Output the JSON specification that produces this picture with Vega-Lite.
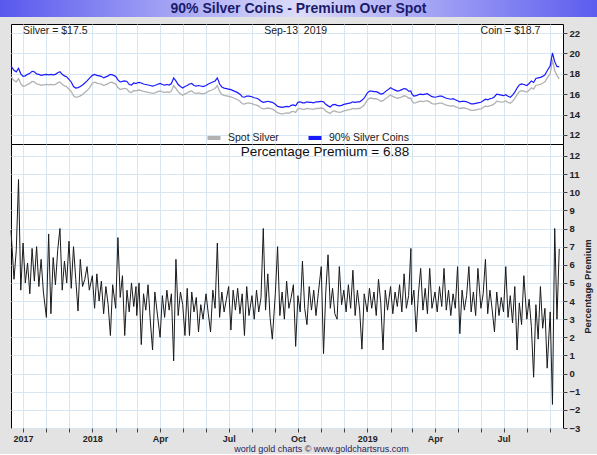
{
"$schema": "https://vega.github.io/schema/vega-lite/v6.json",
"background": "#e3e3e3",
"padding": 0,
"config": {"font": "Liberation Sans", "view": {"stroke": "#000000", "strokeWidth": 1, "fill": "#ffffff"}, "axis": {"gridColor": "#d6e6f3", "gridWidth": 1, "tickColor": "#444444", "labelColor": "#222222", "labelFont": "Liberation Sans", "titleFont": "Liberation Sans", "labelOverlap": false, "labelBound": false, "tickCount": 100}},
"datasets": {"px": [
{"d":"2017-09-15","s":17.72,"c":18.75,"p":7.9},
{"d":"2017-09-19","s":17.34,"c":18.35,"p":5.2},
{"d":"2017-09-22","s":17.20,"c":18.2,"p":6.8},
{"d":"2017-09-25","s":17.53,"c":18.55,"p":10.7},
{"d":"2017-09-28","s":17.01,"c":18.0,"p":4.6},
{"d":"2017-10-01","s":16.78,"c":17.75,"p":7.2},
{"d":"2017-10-04","s":16.82,"c":17.8,"p":5.0},
{"d":"2017-10-07","s":16.97,"c":17.95,"p":6.1},
{"d":"2017-10-10","s":17.06,"c":18.05,"p":4.4},
{"d":"2017-10-13","s":17.25,"c":18.25,"p":6.9},
{"d":"2017-10-16","s":17.20,"c":18.2,"p":5.1},
{"d":"2017-10-19","s":17.01,"c":18.0,"p":7.0},
{"d":"2017-10-22","s":16.97,"c":17.95,"p":4.8},
{"d":"2017-10-25","s":16.87,"c":17.85,"p":6.3},
{"d":"2017-10-28","s":16.92,"c":17.9,"p":4.5},
{"d":"2017-11-01","s":16.97,"c":17.95,"p":3.1},
{"d":"2017-11-04","s":16.92,"c":17.9,"p":7.7},
{"d":"2017-11-07","s":16.97,"c":17.95,"p":3.3},
{"d":"2017-11-10","s":16.92,"c":17.9,"p":6.4},
{"d":"2017-11-13","s":16.97,"c":17.95,"p":4.9},
{"d":"2017-11-16","s":17.11,"c":18.1,"p":6.8},
{"d":"2017-11-19","s":17.20,"c":18.2,"p":8.0},
{"d":"2017-11-22","s":16.97,"c":17.95,"p":4.6},
{"d":"2017-11-25","s":16.82,"c":17.8,"p":6.2},
{"d":"2017-11-28","s":16.73,"c":17.7,"p":5.0},
{"d":"2017-12-01","s":16.49,"c":17.45,"p":7.3},
{"d":"2017-12-04","s":16.26,"c":17.2,"p":4.7},
{"d":"2017-12-07","s":15.83,"c":16.75,"p":7.0},
{"d":"2017-12-10","s":15.69,"c":16.6,"p":5.2},
{"d":"2017-12-13","s":15.74,"c":16.65,"p":3.45},
{"d":"2017-12-16","s":15.83,"c":16.75,"p":6.3},
{"d":"2017-12-19","s":15.97,"c":16.9,"p":4.8},
{"d":"2017-12-22","s":16.16,"c":17.1,"p":5.2},
{"d":"2017-12-25","s":16.35,"c":17.3,"p":5.9},
{"d":"2017-12-28","s":16.59,"c":17.55,"p":4.6},
{"d":"2018-01-01","s":17.08,"c":17.85,"p":5.4},
{"d":"2018-01-04","s":17.18,"c":17.95,"p":3.6},
{"d":"2018-01-07","s":17.08,"c":17.85,"p":5.5},
{"d":"2018-01-10","s":17.03,"c":17.8,"p":4.0},
{"d":"2018-01-13","s":16.99,"c":17.75,"p":5.1},
{"d":"2018-01-16","s":16.84,"c":17.6,"p":3.3},
{"d":"2018-01-19","s":16.94,"c":17.7,"p":4.8},
{"d":"2018-01-22","s":17.03,"c":17.8,"p":3.8},
{"d":"2018-01-25","s":17.18,"c":17.95,"p":2.1},
{"d":"2018-01-28","s":17.13,"c":17.9,"p":4.9},
{"d":"2018-02-01","s":16.99,"c":17.75,"p":3.6},
{"d":"2018-02-04","s":16.65,"c":17.4,"p":7.5},
{"d":"2018-02-07","s":16.46,"c":17.2,"p":4.2},
{"d":"2018-02-10","s":16.51,"c":17.25,"p":5.4},
{"d":"2018-02-13","s":16.56,"c":17.3,"p":2.1},
{"d":"2018-02-16","s":16.51,"c":17.25,"p":4.6},
{"d":"2018-02-19","s":16.22,"c":16.95,"p":3.4},
{"d":"2018-02-22","s":16.17,"c":16.9,"p":5.0},
{"d":"2018-02-25","s":16.36,"c":17.1,"p":3.7},
{"d":"2018-02-28","s":16.32,"c":17.05,"p":4.8},
{"d":"2018-03-01","s":16.36,"c":17.1,"p":3.2},
{"d":"2018-03-04","s":16.41,"c":17.15,"p":5.0},
{"d":"2018-03-07","s":16.36,"c":17.1,"p":1.6},
{"d":"2018-03-10","s":16.27,"c":17.0,"p":4.4},
{"d":"2018-03-13","s":16.22,"c":16.95,"p":3.5},
{"d":"2018-03-16","s":16.17,"c":16.9,"p":4.9},
{"d":"2018-03-19","s":16.12,"c":16.85,"p":2.9},
{"d":"2018-03-22","s":16.08,"c":16.8,"p":1.3},
{"d":"2018-03-25","s":16.12,"c":16.85,"p":4.5},
{"d":"2018-03-28","s":16.22,"c":16.95,"p":3.4},
{"d":"2018-04-01","s":16.32,"c":17.05,"p":2.0},
{"d":"2018-04-04","s":16.22,"c":16.95,"p":4.3},
{"d":"2018-04-07","s":16.17,"c":16.9,"p":3.1},
{"d":"2018-04-10","s":16.22,"c":16.95,"p":4.6},
{"d":"2018-04-13","s":16.17,"c":16.9,"p":3.5},
{"d":"2018-04-16","s":16.32,"c":17.05,"p":4.4},
{"d":"2018-04-19","s":16.84,"c":17.6,"p":0.7},
{"d":"2018-04-22","s":16.56,"c":17.3,"p":6.3},
{"d":"2018-04-25","s":16.22,"c":16.95,"p":3.2},
{"d":"2018-04-28","s":16.03,"c":16.75,"p":4.5},
{"d":"2018-05-01","s":15.89,"c":16.6,"p":3.8},
{"d":"2018-05-04","s":16.03,"c":16.75,"p":2.1},
{"d":"2018-05-07","s":16.12,"c":16.85,"p":4.7},
{"d":"2018-05-10","s":16.27,"c":17.0,"p":2.1},
{"d":"2018-05-13","s":16.32,"c":17.05,"p":4.5},
{"d":"2018-05-16","s":16.12,"c":16.85,"p":3.4},
{"d":"2018-05-19","s":16.08,"c":16.8,"p":4.2},
{"d":"2018-05-22","s":16.12,"c":16.85,"p":2.3},
{"d":"2018-05-25","s":16.08,"c":16.8,"p":3.8},
{"d":"2018-05-28","s":16.03,"c":16.75,"p":3.0},
{"d":"2018-06-01","s":16.12,"c":16.85,"p":4.4},
{"d":"2018-06-04","s":16.27,"c":17.0,"p":3.3},
{"d":"2018-06-07","s":16.36,"c":17.1,"p":2.3},
{"d":"2018-06-10","s":16.46,"c":17.2,"p":4.6},
{"d":"2018-06-13","s":16.56,"c":17.3,"p":3.6},
{"d":"2018-06-16","s":16.84,"c":17.6,"p":7.2},
{"d":"2018-06-19","s":16.27,"c":17.0,"p":3.1},
{"d":"2018-06-22","s":15.98,"c":16.7,"p":4.5},
{"d":"2018-06-25","s":15.89,"c":16.6,"p":3.4},
{"d":"2018-06-28","s":15.84,"c":16.55,"p":4.1},
{"d":"2018-07-01","s":15.79,"c":16.5,"p":4.8},
{"d":"2018-07-04","s":15.74,"c":16.45,"p":2.4},
{"d":"2018-07-07","s":15.65,"c":16.35,"p":4.6},
{"d":"2018-07-10","s":15.55,"c":16.25,"p":3.5},
{"d":"2018-07-13","s":15.45,"c":16.15,"p":4.7},
{"d":"2018-07-16","s":15.31,"c":16.0,"p":3.3},
{"d":"2018-07-19","s":15.07,"c":15.75,"p":4.4},
{"d":"2018-07-22","s":15.02,"c":15.7,"p":2.1},
{"d":"2018-07-25","s":15.12,"c":15.8,"p":4.8},
{"d":"2018-07-28","s":15.12,"c":15.8,"p":3.2},
{"d":"2018-08-01","s":15.07,"c":15.75,"p":4.3},
{"d":"2018-08-04","s":14.98,"c":15.65,"p":3.0},
{"d":"2018-08-07","s":14.93,"c":15.6,"p":4.6},
{"d":"2018-08-10","s":14.83,"c":15.5,"p":3.4},
{"d":"2018-08-13","s":14.64,"c":15.3,"p":4.2},
{"d":"2018-08-16","s":14.55,"c":15.2,"p":8.0},
{"d":"2018-08-19","s":14.59,"c":15.25,"p":3.5},
{"d":"2018-08-22","s":14.64,"c":15.3,"p":5.5},
{"d":"2018-08-25","s":14.59,"c":15.25,"p":3.1},
{"d":"2018-08-28","s":14.55,"c":15.2,"p":1.9},
{"d":"2018-09-01","s":14.35,"c":15.0,"p":4.4},
{"d":"2018-09-04","s":14.16,"c":14.8,"p":7.0},
{"d":"2018-09-07","s":14.11,"c":14.75,"p":3.2},
{"d":"2018-09-10","s":14.07,"c":14.7,"p":4.5},
{"d":"2018-09-13","s":14.11,"c":14.75,"p":3.0},
{"d":"2018-09-16","s":14.16,"c":14.8,"p":5.1},
{"d":"2018-09-19","s":14.11,"c":14.75,"p":3.6},
{"d":"2018-09-22","s":14.26,"c":14.9,"p":4.2},
{"d":"2018-09-25","s":14.31,"c":14.95,"p":4.9},
{"d":"2018-09-28","s":14.21,"c":14.85,"p":1.5},
{"d":"2018-10-01","s":14.55,"c":15.2,"p":4.3},
{"d":"2018-10-04","s":14.59,"c":15.25,"p":3.4},
{"d":"2018-10-07","s":14.50,"c":15.15,"p":6.2},
{"d":"2018-10-10","s":14.50,"c":15.15,"p":3.6},
{"d":"2018-10-13","s":14.59,"c":15.25,"p":2.7},
{"d":"2018-10-16","s":14.55,"c":15.2,"p":4.8},
{"d":"2018-10-19","s":14.55,"c":15.2,"p":3.5},
{"d":"2018-10-22","s":14.50,"c":15.15,"p":4.6},
{"d":"2018-10-25","s":14.59,"c":15.25,"p":3.2},
{"d":"2018-10-28","s":14.59,"c":15.25,"p":4.4},
{"d":"2018-11-01","s":14.64,"c":15.3,"p":5.9},
{"d":"2018-11-04","s":14.59,"c":15.25,"p":1.1},
{"d":"2018-11-07","s":14.35,"c":15.0,"p":4.5},
{"d":"2018-11-10","s":14.21,"c":14.85,"p":6.55},
{"d":"2018-11-13","s":14.11,"c":14.74,"p":3.6},
{"d":"2018-11-16","s":14.31,"c":14.95,"p":4.7},
{"d":"2018-11-19","s":14.35,"c":15.0,"p":3.3},
{"d":"2018-11-22","s":14.26,"c":14.9,"p":3.0},
{"d":"2018-11-25","s":14.21,"c":14.85,"p":5.9},
{"d":"2018-11-28","s":14.26,"c":14.9,"p":3.8},
{"d":"2018-12-01","s":14.35,"c":15.0,"p":4.6},
{"d":"2018-12-04","s":14.40,"c":15.05,"p":3.4},
{"d":"2018-12-07","s":14.45,"c":15.1,"p":4.9},
{"d":"2018-12-10","s":14.50,"c":15.15,"p":3.6},
{"d":"2018-12-13","s":14.59,"c":15.25,"p":5.7},
{"d":"2018-12-16","s":14.55,"c":15.2,"p":3.2},
{"d":"2018-12-19","s":14.59,"c":15.25,"p":4.6},
{"d":"2018-12-22","s":14.59,"c":15.25,"p":3.5},
{"d":"2018-12-25","s":14.74,"c":15.4,"p":1.35},
{"d":"2018-12-28","s":14.93,"c":15.6,"p":4.4},
{"d":"2019-01-01","s":15.41,"c":16.1,"p":3.4},
{"d":"2019-01-04","s":15.60,"c":16.3,"p":4.7},
{"d":"2019-01-07","s":15.60,"c":16.3,"p":3.6},
{"d":"2019-01-10","s":15.55,"c":16.25,"p":4.5},
{"d":"2019-01-13","s":15.55,"c":16.25,"p":3.2},
{"d":"2019-01-16","s":15.45,"c":16.15,"p":5.2},
{"d":"2019-01-19","s":15.31,"c":16.0,"p":3.9},
{"d":"2019-01-22","s":15.36,"c":16.05,"p":1.3},
{"d":"2019-01-25","s":15.55,"c":16.25,"p":4.6},
{"d":"2019-01-28","s":15.69,"c":16.4,"p":3.5},
{"d":"2019-02-01","s":15.91,"c":16.63,"p":4.8},
{"d":"2019-02-04","s":15.79,"c":16.5,"p":3.3},
{"d":"2019-02-07","s":15.69,"c":16.4,"p":4.5},
{"d":"2019-02-10","s":15.60,"c":16.3,"p":3.7},
{"d":"2019-02-13","s":15.65,"c":16.35,"p":4.9},
{"d":"2019-02-16","s":15.74,"c":16.45,"p":3.4},
{"d":"2019-02-19","s":15.84,"c":16.55,"p":5.5},
{"d":"2019-02-22","s":15.79,"c":16.5,"p":3.6},
{"d":"2019-02-25","s":15.60,"c":16.3,"p":4.3},
{"d":"2019-02-28","s":15.60,"c":16.3,"p":6.9},
{"d":"2019-03-01","s":15.36,"c":16.05,"p":3.8},
{"d":"2019-03-04","s":15.12,"c":15.8,"p":4.6},
{"d":"2019-03-07","s":15.17,"c":15.85,"p":2.3},
{"d":"2019-03-10","s":15.26,"c":15.95,"p":4.4},
{"d":"2019-03-13","s":15.31,"c":16.0,"p":5.8},
{"d":"2019-03-16","s":15.26,"c":15.95,"p":3.5},
{"d":"2019-03-19","s":15.31,"c":16.0,"p":4.7},
{"d":"2019-03-22","s":15.36,"c":16.05,"p":3.3},
{"d":"2019-03-25","s":15.22,"c":15.9,"p":5.8},
{"d":"2019-03-28","s":15.07,"c":15.75,"p":3.6},
{"d":"2019-04-01","s":15.02,"c":15.7,"p":4.5},
{"d":"2019-04-04","s":15.07,"c":15.75,"p":3.4},
{"d":"2019-04-07","s":15.12,"c":15.8,"p":4.8},
{"d":"2019-04-10","s":15.12,"c":15.8,"p":3.7},
{"d":"2019-04-13","s":15.02,"c":15.7,"p":5.8},
{"d":"2019-04-16","s":14.93,"c":15.6,"p":3.5},
{"d":"2019-04-19","s":14.88,"c":15.55,"p":4.6},
{"d":"2019-04-22","s":14.83,"c":15.5,"p":3.2},
{"d":"2019-04-25","s":14.88,"c":15.55,"p":4.4},
{"d":"2019-04-28","s":14.78,"c":15.45,"p":3.6},
{"d":"2019-05-01","s":14.69,"c":15.35,"p":5.9},
{"d":"2019-05-04","s":14.59,"c":15.25,"p":2.2},
{"d":"2019-05-07","s":14.64,"c":15.3,"p":4.6},
{"d":"2019-05-10","s":14.64,"c":15.3,"p":3.5},
{"d":"2019-05-13","s":14.59,"c":15.25,"p":4.3},
{"d":"2019-05-16","s":14.50,"c":15.15,"p":5.9},
{"d":"2019-05-19","s":14.40,"c":15.05,"p":3.4},
{"d":"2019-05-22","s":14.40,"c":15.05,"p":4.5},
{"d":"2019-05-25","s":14.45,"c":15.1,"p":3.2},
{"d":"2019-05-28","s":14.50,"c":15.15,"p":5.8},
{"d":"2019-06-01","s":14.55,"c":15.2,"p":3.6},
{"d":"2019-06-04","s":14.69,"c":15.35,"p":4.4},
{"d":"2019-06-07","s":14.83,"c":15.5,"p":6.3},
{"d":"2019-06-10","s":14.78,"c":15.45,"p":3.3},
{"d":"2019-06-13","s":14.88,"c":15.55,"p":4.6},
{"d":"2019-06-16","s":14.93,"c":15.6,"p":3.5},
{"d":"2019-06-19","s":15.07,"c":15.75,"p":2.3},
{"d":"2019-06-22","s":15.31,"c":16.0,"p":4.5},
{"d":"2019-06-25","s":15.26,"c":15.95,"p":3.2},
{"d":"2019-06-28","s":15.22,"c":15.9,"p":4.2},
{"d":"2019-07-01","s":15.24,"c":15.85,"p":3.4},
{"d":"2019-07-04","s":15.34,"c":15.95,"p":5.9},
{"d":"2019-07-07","s":15.19,"c":15.8,"p":3.1},
{"d":"2019-07-10","s":15.10,"c":15.7,"p":4.3},
{"d":"2019-07-13","s":15.29,"c":15.9,"p":2.8},
{"d":"2019-07-16","s":15.58,"c":16.2,"p":4.8},
{"d":"2019-07-19","s":15.96,"c":16.6,"p":1.3},
{"d":"2019-07-22","s":16.25,"c":16.9,"p":3.9},
{"d":"2019-07-25","s":16.35,"c":17.0,"p":2.7},
{"d":"2019-07-28","s":16.30,"c":16.95,"p":5.4},
{"d":"2019-08-01","s":16.20,"c":16.85,"p":3.0},
{"d":"2019-08-04","s":16.39,"c":17.05,"p":4.1},
{"d":"2019-08-07","s":16.63,"c":17.3,"p":2.6},
{"d":"2019-08-10","s":16.49,"c":17.15,"p":-0.2},
{"d":"2019-08-13","s":16.88,"c":17.55,"p":3.8},
{"d":"2019-08-16","s":16.92,"c":17.6,"p":1.9},
{"d":"2019-08-19","s":16.97,"c":17.65,"p":4.8},
{"d":"2019-08-22","s":17.07,"c":17.75,"p":2.5},
{"d":"2019-08-25","s":17.21,"c":17.9,"p":3.6},
{"d":"2019-08-28","s":17.60,"c":18.3,"p":0.3},
{"d":"2019-09-01","s":18.00,"c":18.8,"p":3.4},
{"d":"2019-09-04","s":19.40,"c":20.05,"p":-1.7},
{"d":"2019-09-07","s":18.30,"c":19.2,"p":8.0},
{"d":"2019-09-10","s":17.85,"c":18.7,"p":3.0},
{"d":"2019-09-13","s":17.50,"c":18.7,"p":6.88}
]},
"spacing": 6,
"resolve": {"scale": {"color": "independent"}, "legend": {"color": "independent"}},
"vconcat": [
 {
  "width": 597, "height": 17,
  "view": {"stroke": null, "fill": null},
  "data": {"values": [{}]},
  "layer": [
   {"mark": {"type": "rect", "color": {"gradient": "linear", "x1": 0, "x2": 1, "y1": 0, "y2": 0, "stops": [{"offset": 0, "color": "#5858ee"}, {"offset": 0.5, "color": "#dcdcfa"}, {"offset": 1, "color": "#5c5cef"}]}}, "encoding": {}},
   {"mark": {"type": "text", "text": "90% Silver Coins - Premium Over Spot", "fontSize": 14, "fontWeight": "bold", "color": "#1b1b6b", "font": "Liberation Sans", "baseline": "middle"}, "encoding": {}}
  ]
 },
 {
  "spacing": 0,
  "bounds": "flush",
  "resolve": {"scale": {"color": "independent"}, "legend": {"color": "independent"}},
  "hconcat": [
   {"width": 11, "height": 10, "view": {"stroke": null, "fill": null}, "data": {"values": [{}]}, "mark": {"type": "point", "opacity": 0, "size": 1}, "encoding": {}},
   {
    "spacing": 0,
    "bounds": "flush",
    "resolve": {"scale": {"color": "independent"}, "legend": {"color": "independent"}},
    "vconcat": [
     {
      "width": 552, "height": 120,
      "layer": [
       {"data": {"name": "px"}, "mark": {"type": "line", "strokeWidth": 1.3},
        "encoding": {
         "x": {"field": "d", "type": "temporal", "scale": {"type": "utc", "domain": [{"year": 2017, "month": 9, "date": 15, "utc": true}, {"year": 2019, "month": 9, "date": 18, "utc": true}]},
               "axis": {"labels": false, "ticks": false, "domain": false, "title": null, "grid": true, "minExtent": 0, "maxExtent": 0, "tickCount": 100,
                 "values": [{"year":2017,"month":10,"date":1,"utc":true},{"year":2017,"month":11,"date":1,"utc":true},{"year":2017,"month":12,"date":1,"utc":true},{"year":2018,"month":1,"date":1,"utc":true},{"year":2018,"month":2,"date":1,"utc":true},{"year":2018,"month":3,"date":1,"utc":true},{"year":2018,"month":4,"date":1,"utc":true},{"year":2018,"month":5,"date":1,"utc":true},{"year":2018,"month":6,"date":1,"utc":true},{"year":2018,"month":7,"date":1,"utc":true},{"year":2018,"month":8,"date":1,"utc":true},{"year":2018,"month":9,"date":1,"utc":true},{"year":2018,"month":10,"date":1,"utc":true},{"year":2018,"month":11,"date":1,"utc":true},{"year":2018,"month":12,"date":1,"utc":true},{"year":2019,"month":1,"date":1,"utc":true},{"year":2019,"month":2,"date":1,"utc":true},{"year":2019,"month":3,"date":1,"utc":true},{"year":2019,"month":4,"date":1,"utc":true},{"year":2019,"month":5,"date":1,"utc":true},{"year":2019,"month":6,"date":1,"utc":true},{"year":2019,"month":7,"date":1,"utc":true},{"year":2019,"month":8,"date":1,"utc":true},{"year":2019,"month":9,"date":1,"utc":true}]}},
         "y": {"field": "s", "type": "quantitative", "scale": {"domain": [11.1, 22.9], "nice": false, "zero": false},
               "axis": {"orient": "right", "title": null, "values": [12, 14, 16, 18, 20, 22], "format": "d", "tickCount": 100, "grid": true, "domain": false, "tickSize": 4, "labelPadding": 2, "labelFontSize": 9.5, "labelFontWeight": "bold", "labelOverlap": false}},
         "color": {"datum": "Spot Silver", "type": "nominal",
                   "scale": {"domain": ["Spot Silver", "90% Silver Coins"], "range": ["#b2b2b2", "#1a1aff"]},
                   "legend": {"orient": "none", "legendX": 194, "legendY": 105, "direction": "horizontal", "title": null, "symbolType": "stroke", "symbolStrokeWidth": 4, "symbolSize": 170, "labelFontSize": 10.5, "labelColor": "#222222", "columnPadding": 21, "labelOffset": 5}}
        }},
       {"data": {"name": "px"}, "mark": {"type": "line", "strokeWidth": 1.2},
        "encoding": {
         "x": {"field": "d", "type": "temporal"},
         "y": {"field": "c", "type": "quantitative"},
         "color": {"datum": "90% Silver Coins", "type": "nominal"}
        }},
       {"data": {"values": [{}]}, "mark": {"type": "text", "text": "Silver = $17.5", "align": "left", "baseline": "middle", "fontSize": 10.5, "color": "#222222"},
        "encoding": {"x": {"datum": {"year": 2017, "month": 10, "date": 1, "utc": true}, "type": "temporal"}, "y": {"datum": 22.2, "type": "quantitative"}}},
       {"data": {"values": [{}]}, "mark": {"type": "text", "text": "Sep-13\u00a0 2019", "align": "center", "baseline": "middle", "fontSize": 10.5, "color": "#222222"},
        "encoding": {"x": {"datum": {"year": 2018, "month": 9, "date": 28, "utc": true}, "type": "temporal"}, "y": {"datum": 22.2, "type": "quantitative"}}},
       {"data": {"values": [{}]}, "mark": {"type": "text", "text": "Coin = $18.7", "align": "right", "baseline": "middle", "fontSize": 10.5, "color": "#222222"},
        "encoding": {"x": {"datum": {"year": 2019, "month": 8, "date": 19, "utc": true}, "type": "temporal"}, "y": {"datum": 22.2, "type": "quantitative"}}}
      ]
     },
     {
      "width": 552, "height": 284,
      "layer": [
       {"data": {"name": "px"}, "mark": {"type": "line", "strokeWidth": 1, "color": "#1a1a1a"},
        "encoding": {
         "x": {"field": "d", "type": "temporal", "scale": {"type": "utc", "domain": [{"year": 2017, "month": 9, "date": 15, "utc": true}, {"year": 2019, "month": 9, "date": 18, "utc": true}]},
               "axis": {"grid": true, "domain": false, "tickSize": 4, "tickCount": 100, "labelPadding": 2, "labelFontSize": 9, "labelFontWeight": "bold", "labelOverlap": false, "labelFlush": false,
                 "labelExpr": "utcmonth(datum.value) % 3 != 0 ? '' : ((utcmonth(datum.value) == 0 || utcyear(datum.value) == 2017) ? utcFormat(datum.value, '%Y') : utcFormat(datum.value, '%b'))",
                 "title": "world gold charts © www.goldchartsrus.com", "titleFontSize": 9, "titleFontWeight": "normal", "titleColor": "#1e1e5a", "titlePadding": 1, "titleX": 310, "titleAlign": "center",
                 "values": [{"year":2017,"month":10,"date":1,"utc":true},{"year":2017,"month":11,"date":1,"utc":true},{"year":2017,"month":12,"date":1,"utc":true},{"year":2018,"month":1,"date":1,"utc":true},{"year":2018,"month":2,"date":1,"utc":true},{"year":2018,"month":3,"date":1,"utc":true},{"year":2018,"month":4,"date":1,"utc":true},{"year":2018,"month":5,"date":1,"utc":true},{"year":2018,"month":6,"date":1,"utc":true},{"year":2018,"month":7,"date":1,"utc":true},{"year":2018,"month":8,"date":1,"utc":true},{"year":2018,"month":9,"date":1,"utc":true},{"year":2018,"month":10,"date":1,"utc":true},{"year":2018,"month":11,"date":1,"utc":true},{"year":2018,"month":12,"date":1,"utc":true},{"year":2019,"month":1,"date":1,"utc":true},{"year":2019,"month":2,"date":1,"utc":true},{"year":2019,"month":3,"date":1,"utc":true},{"year":2019,"month":4,"date":1,"utc":true},{"year":2019,"month":5,"date":1,"utc":true},{"year":2019,"month":6,"date":1,"utc":true},{"year":2019,"month":7,"date":1,"utc":true},{"year":2019,"month":8,"date":1,"utc":true},{"year":2019,"month":9,"date":1,"utc":true}]}},
         "y": {"field": "p", "type": "quantitative", "scale": {"domain": [-3, 12.66], "nice": false, "zero": false},
               "axis": {"orient": "right", "values": [-3, -2, -1, 0, 1, 2, 3, 4, 5, 6, 7, 8, 9, 10, 11, 12], "format": "d", "tickCount": 100, "grid": true, "domain": false, "tickSize": 4, "labelPadding": 2, "labelFontSize": 9.5, "labelFontWeight": "bold", "labelOverlap": false,
                        "title": "Percentage Premium", "titleFontSize": 9.5, "titleFontWeight": "bold", "titleColor": "#222222", "titleAngle": -90, "titleBaseline": "top", "titlePadding": 3}}
        }},
       {"data": {"values": [{}]}, "mark": {"type": "text", "text": "Percentage Premium = 6.88", "align": "center", "baseline": "middle", "fontSize": 13.5, "color": "#111111"},
        "encoding": {"x": {"datum": {"year": 2018, "month": 11, "date": 6, "utc": true}, "type": "temporal"}, "y": {"datum": 12.2, "type": "quantitative"}}}
      ]
     }
    ]
   }
  ]
 }
]
}
